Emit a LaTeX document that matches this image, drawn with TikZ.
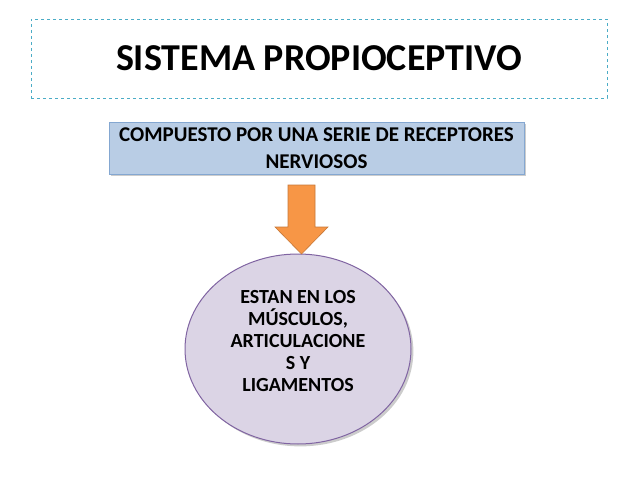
\documentclass[tikz,border=0pt]{standalone}
\usepackage{fontspec}
\setmainfont{Carlito}
\usetikzlibrary{shadows,shapes.geometric}
\definecolor{tborder}{HTML}{4BACC6}
\definecolor{bfill}{HTML}{B9CDE5}
\definecolor{bdraw}{HTML}{4F81BD}
\definecolor{afill}{HTML}{F79646}
\definecolor{efill}{HTML}{CCC1DA}
\definecolor{edraw}{HTML}{8064A2}
\tikzset{
 titlebox/.style={draw=tborder,dashed,line width=0.6pt,minimum width=576pt,minimum height=79pt,font=\fontsize{38}{42}\selectfont\bfseries},
 infobox/.style={draw=bdraw!70,fill=bfill,drop shadow={opacity=0.4},minimum width=415pt,minimum height=52pt,inner sep=0pt,align=center,font=\fontsize{21}{27}\selectfont\bfseries},
 ovalbox/.style={ellipse,draw=edraw,line width=1pt,fill=efill!70,drop shadow={opacity=0.4},minimum width=226pt,minimum height=190pt,inner sep=0pt},
 ovaltext/.style={align=center,inner sep=0pt,font=\fontsize{20}{22}\selectfont\bfseries},
}
\begin{document}
\begin{tikzpicture}[x=1pt,y=-1pt]
\useasboundingbox (0,0) rectangle (638,479);
\node[titlebox] (t) at (319,58.5) {SISTEMA PROPIOCEPTIVO};
\node[infobox] (b) at (316.5,148) {COMPUESTO POR UNA SERIE DE RECEPTORES\\NERVIOSOS};
\node[ovalbox] (e) at (298,349) {};
\node[ovaltext] (el) at (298,341) {ESTAN EN LOS\\MÚSCULOS,\\ARTICULACIONE\\S Y\\LIGAMENTOS};
\draw[draw=afill!80!black,fill=afill,line width=0.6pt] (288,185) -- (315,185) -- (315,227) -- (328,227) -- (301.5,254) -- (275,227) -- (288,227) -- cycle;
\end{tikzpicture}
\end{document}
